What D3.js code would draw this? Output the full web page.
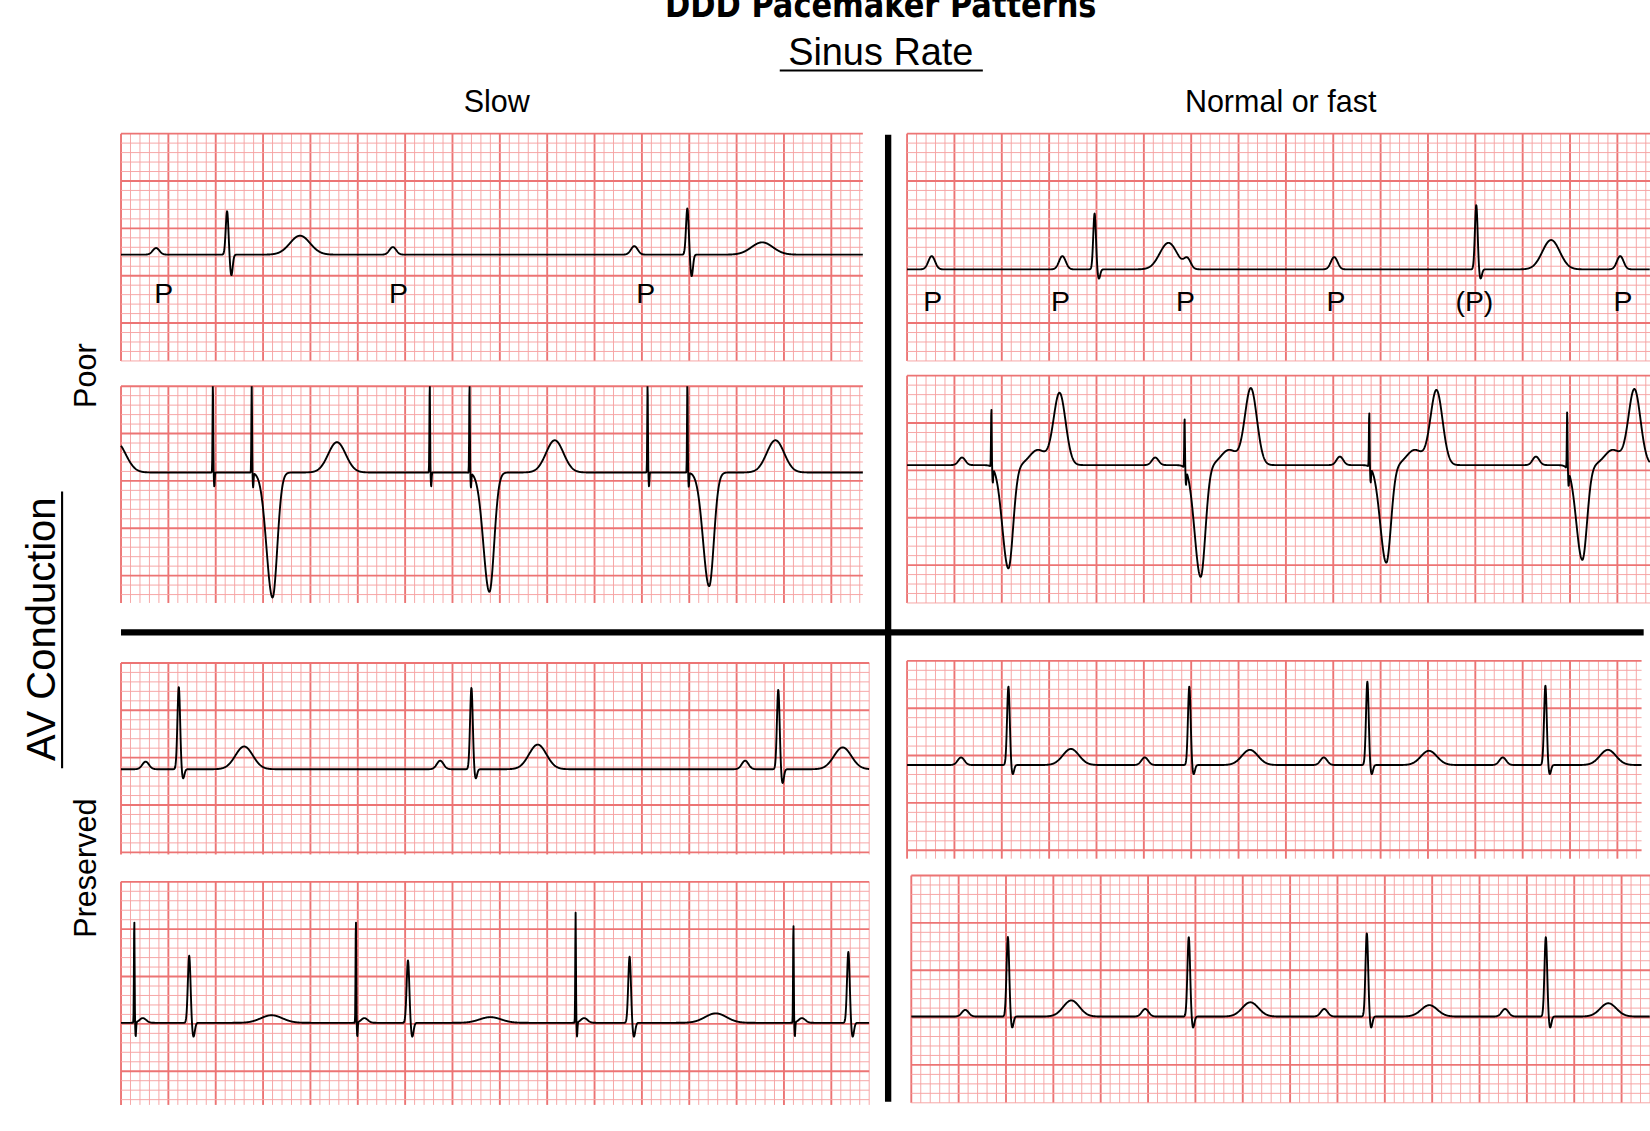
<!DOCTYPE html>
<html>
<head>
<meta charset="utf-8">
<script src="https://cdn.jsdelivr.net/npm/d3@7"></script>
<style>
  body { margin: 0; background: #fff; }
  text { font-family: "Liberation Sans", Arial, sans-serif; fill: #000; }
</style>
</head>
<body>
<div id="chart"></div>
<script>
// ---- data: beat events read off the strips (time in mm of paper, amplitude in mm) ----
// [kind, time, amplitude, secondary amplitude / width]
const slowPoorAtrial = [
  ["p", 3.7, 0.7], ["qrs", 11.2, 4.6, -2.2], ["t", 18.9, 2.0, 1.5],
  ["p", 28.7, 0.8], ["p", 54.2, 0.9], ["qrs", 59.8, 4.9, -2.3], ["t", 67.7, 1.3, 1.6]
];
const slowPoorPaced = [
  ["t", -0.5, 3.2, 1.4],
  ["spike", 9.7, 9.5], ["spike", 13.8, 9.5], ["wide", 16.0, -13.2], ["t", 22.8, 3.2, 1.3],
  ["spike", 32.6, 9.5], ["spike", 36.8, 9.5], ["wide", 38.9, -12.6], ["t", 45.8, 3.4, 1.3],
  ["spike", 55.6, 9.5], ["spike", 59.8, 9.5], ["wide", 62.1, -12.0], ["t", 69.1, 3.4, 1.3]
];
const slowPresAtrial = [
  ["p", 2.6, 0.8], ["qrs", 6.1, 8.7, -1.0], ["t", 13.0, 2.4, 1.3],
  ["p", 33.7, 0.9], ["qrs", 37.0, 8.6, -1.0], ["t", 44.0, 2.6, 1.3],
  ["p", 65.9, 0.9], ["qrs", 69.4, 8.4, -1.5], ["t", 76.2, 2.3, 1.3]
];
const slowPresPaced = [
  ["spike", 1.4, 11.0], ["p", 2.3, 0.5], ["qrs", 7.2, 7.1, -1.5], ["t", 15.9, 0.8, 1.6],
  ["spike", 24.8, 11.0], ["p", 25.7, 0.5], ["qrs", 30.3, 6.6, -1.5], ["t", 39.0, 0.6, 1.6],
  ["spike", 48.0, 11.6], ["p", 48.9, 0.5], ["qrs", 53.7, 7.0, -1.5], ["t", 62.8, 1.0, 1.6],
  ["spike", 71.0, 10.6], ["p", 71.9, 0.5], ["qrs", 76.8, 7.5, -1.5]
];
const fastPoorAtrial = [
  ["p", 2.6, 1.4], ["p", 16.4, 1.4], ["qrs", 19.8, 5.9, -1.0], ["t", 27.6, 2.8, 1.3],
  ["p", 29.6, 1.0], ["p", 45.1, 1.3], ["qrs", 60.1, 6.8, -1.0], ["t", 68.0, 3.1, 1.3],
  ["p", 75.3, 1.4]
];
const fastPoorPaced = [
  ["p", 5.8, 0.8], ["spike", 8.9, 6.3], ["wide", 10.7, -10.9], ["t", 16.1, 7.6, 0.9], ["t", 13.8, 1.6, 1.2],
  ["p", 26.2, 0.8], ["spike", 29.3, 5.4], ["wide", 31.0, -11.8], ["t", 36.3, 8.1, 0.9], ["t", 34.0, 1.6, 1.2],
  ["p", 45.7, 0.9], ["spike", 48.8, 5.9], ["wide", 50.6, -10.3], ["t", 55.9, 7.9, 0.9], ["t", 53.6, 1.6, 1.2],
  ["p", 66.4, 0.9], ["spike", 69.7, 6.2], ["wide", 71.3, -10.0], ["t", 76.8, 8.0, 0.9], ["t", 74.5, 1.6, 1.2]
];
const fastPresAtrial = [
  ["p", 5.7, 0.8], ["qrs", 10.7, 8.3, -1.0], ["t", 17.3, 1.7, 1.2],
  ["p", 25.1, 0.8], ["qrs", 29.8, 8.3, -1.0], ["t", 36.2, 1.6, 1.2],
  ["p", 44.0, 0.8], ["qrs", 48.6, 8.8, -1.0], ["t", 55.1, 1.5, 1.2],
  ["p", 62.9, 0.8], ["qrs", 67.4, 8.4, -1.0], ["t", 74.0, 1.6, 1.2]
];
const fastPresPaced = [
  ["p", 5.7, 0.7], ["qrs", 10.2, 8.4, -1.2], ["t", 16.9, 1.7, 1.2],
  ["p", 24.7, 0.8], ["qrs", 29.3, 8.4, -1.2], ["t", 35.8, 1.5, 1.2],
  ["p", 43.6, 0.8], ["qrs", 48.1, 8.8, -1.2], ["t", 54.7, 1.2, 1.2],
  ["p", 62.7, 0.8], ["qrs", 67.0, 8.4, -1.2], ["t", 73.6, 1.4, 1.2]
];
const slowPoorLabels = [[4.5, "P"], [29.3, "P"], [55.4, "P"]];
const fastPoorLabels = [[2.7, "P"], [16.2, "P"], [29.4, "P"], [45.3, "P"], [59.9, "(P)"], [75.6, "P"]];

const title = "DDD Pacemaker Patterns";
const colTitle = "Sinus Rate";
const colLabels = ["Slow", "Normal or fast"];
const rowTitle = "AV Conduction";
const rowLabels = ["Poor", "Preserved"];

// ---- layout (drawn at 1568-wide design size, scaled up to 1650) ----
const S = 1650 / 1568;
const strips = [
  { x0: 115, x1: 820, y0: 127, y1: 343, base: 242, ev: slowPoorAtrial, labels: slowPoorLabels, ly: 288 },
  { x0: 115, x1: 820, y0: 367, y1: 573, base: 449, ev: slowPoorPaced },
  { x0: 115, x1: 826, y0: 630, y1: 812, base: 731, ev: slowPresAtrial },
  { x0: 115, x1: 826, y0: 838, y1: 1050, base: 972, ev: slowPresPaced },
  { x0: 862, x1: 1568, y0: 127, y1: 343, base: 256, ev: fastPoorAtrial, labels: fastPoorLabels, ly: 296 },
  { x0: 862, x1: 1568, y0: 357, y1: 573, base: 442, ev: fastPoorPaced },
  { x0: 862, x1: 1560, y0: 628, y1: 816, base: 727, ev: fastPresAtrial },
  { x0: 866, x1: 1568, y0: 832, y1: 1048, base: 966, ev: fastPresPaced }
];
const MM = 9;

const svg = d3.select('#chart').append('svg').attr('width', 1650).attr('height', 1131);
const root = svg.append('g').attr('transform', `scale(${S})`);

const g = (t, c, w) => Math.exp(-(((t - c) / w) ** 2));
function signal(ev, t) {
  let v = 0;
  for (const [k, c, a, b] of ev) {
    if (k === "p") v += a * g(t, c, 0.5);
    else if (k === "t") v += a * g(t, c, b || 1.2);
    else if (k === "qrs") v += a * g(t, c, 0.2) + (b || 0) * g(t, c + 0.45, 0.2);
    else if (k === "spike") v += a * g(t, c, 0.05) - 1.5 * g(t, c + 0.15, 0.06);
    else if (k === "wide") v += a * (t < c ? g(t, c, 0.9) : g(t, c, 0.7));
  }
  return v;
}

strips.forEach((s, i) => {
  const wmm = (s.x1 - s.x0) / MM, hmm = (s.y1 - s.y0) / MM;
  const x = d3.scaleLinear().domain([0, wmm]).range([s.x0, s.x1]);
  const yg = d3.scaleLinear().domain([0, hmm]).range([s.y0, s.y1]);
  const y = d3.scaleLinear().domain([0, 1]).range([s.base, s.base - MM]);
  const sg = root.append('g');
  const vx = d3.range(0, wmm + 0.01, 1), hy = d3.range(0, hmm + 0.01, 1);
  sg.selectAll('.v').data(vx).join('line')
    .attr('x1', d => x(d)).attr('x2', d => x(d)).attr('y1', s.y0).attr('y2', s.y1)
    .attr('stroke', d => d % 5 === 0 ? '#ec7474' : '#f5a3a3')
    .attr('stroke-width', d => d % 5 === 0 ? 1.8 : 0.9);
  sg.selectAll('.h').data(hy).join('line')
    .attr('y1', d => yg(d)).attr('y2', d => yg(d)).attr('x1', s.x0).attr('x2', s.x1)
    .attr('stroke', d => d % 5 === 0 ? '#ec7474' : '#f5a3a3')
    .attr('stroke-width', d => d % 5 === 0 ? 1.8 : 0.9);

  svg.append('clipPath').attr('id', 'c' + i).append('rect')
    .attr('x', s.x0 - 2).attr('y', s.y0).attr('width', s.x1 - s.x0 + 4).attr('height', s.y1 - s.y0);
  const ts = d3.range(0, wmm, 0.03);
  sg.append('path')
    .attr('clip-path', `url(#c${i})`)
    .attr('d', d3.line().x(t => x(t)).y(t => y(signal(s.ev, t)))(ts))
    .attr('fill', 'none').attr('stroke', '#000').attr('stroke-width', 1.8)
    .attr('stroke-linejoin', 'round');

  if (s.labels) {
    sg.selectAll('.lab').data(s.labels).join('text')
      .attr('x', d => x(d[0])).attr('y', s.ly)
      .attr('text-anchor', 'middle').attr('font-size', 27).text(d => d[1]);
  }
});

// dividers
root.append('line').attr('x1', 844).attr('x2', 844).attr('y1', 128).attr('y2', 1047)
  .attr('stroke', '#000').attr('stroke-width', 6);
root.append('line').attr('x1', 115).attr('x2', 1562).attr('y1', 601).attr('y2', 601)
  .attr('stroke', '#000').attr('stroke-width', 6);

// titles
root.append('text').attr('x', 837).attr('y', 16).attr('text-anchor', 'middle')
  .attr('font-size', 34).attr('font-weight', 'bold')
  .attr('textLength', 410).attr('lengthAdjust', 'spacingAndGlyphs')
  .style('font-family', '"Liberation Sans Narrow", "DejaVu Sans Condensed", sans-serif')
  .text(title);
root.append('text').attr('x', 837).attr('y', 62).attr('text-anchor', 'middle')
  .attr('font-size', 36).text(colTitle);
root.append('line').attr('x1', 741).attr('x2', 934).attr('y1', 67).attr('y2', 67)
  .attr('stroke', '#000').attr('stroke-width', 2);
root.selectAll('.col').data(colLabels).join('text')
  .attr('x', (d, i) => [472, 1217][i]).attr('y', 106)
  .attr('text-anchor', 'middle').attr('font-size', 29).text(d => d);

root.append('text').attr('transform', 'translate(52,598) rotate(-90)')
  .attr('text-anchor', 'middle').attr('font-size', 38).text(rowTitle);
root.append('line').attr('x1', 59).attr('x2', 59).attr('y1', 467).attr('y2', 730)
  .attr('stroke', '#000').attr('stroke-width', 2);
root.selectAll('.row').data(rowLabels).join('text')
  .attr('transform', (d, i) => `translate(91,${[357, 825][i]}) rotate(-90)`)
  .attr('text-anchor', 'middle').attr('font-size', 29).text(d => d);
</script>
</body>
</html>
